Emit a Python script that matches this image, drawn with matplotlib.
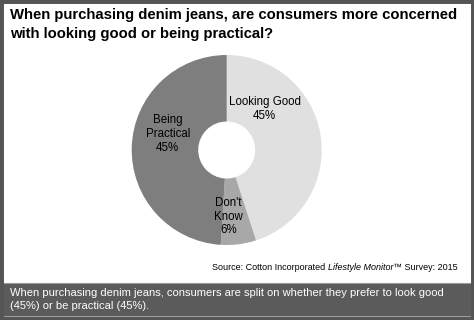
import matplotlib
matplotlib.use("Agg")
import matplotlib.pyplot as plt
from matplotlib.patches import Rectangle

plt.rcParams['font.family'] = ['Liberation Sans', 'DejaVu Sans']

title = "When purchasing denim jeans, are consumers more concerned\nwith looking good or being practical?"
categories = ["Looking Good", "Don't\nKnow", "Being\nPractical"]
values = [45, 6, 49]
value_labels = ["45%", "6%", "45%"]
colors = ["#e0e0e0", "#a8a8a8", "#7e7e7e"]
source_parts = ["Source: Cotton Incorporated ", "Lifestyle Monitor", "\u2122 Survey: 2015"]
caption = ("When purchasing denim jeans, consumers are split on whether they prefer to look good\n"
           "(45%) or be practical (45%).")

W, H = 474, 320
fig = plt.figure(figsize=(W / 100, H / 100), dpi=100)
fig.patch.set_facecolor("white")

# outer border
fig.patches.append(Rectangle((0, 0), 1, 1, transform=fig.transFigure, fill=False,
                             edgecolor="#555555", linewidth=5, zorder=10))
# bottom caption band
band_top = 283
band_bot = 316
fig.patches.append(Rectangle((0, (H - band_bot) / H), 1, (band_bot - band_top) / H,
                             transform=fig.transFigure, facecolor="#5b5b5b",
                             edgecolor="#9a9a9a", linewidth=0.8, zorder=1))

fig.text(10 / W, 1 - 8.5 / H, title, ha="left", va="top", fontsize=10.75,
         fontweight="bold", color="black", linespacing=1.38)

# donut
cx, cy, r = 226.7, 150, 95
ax = fig.add_axes([(cx - r) / W, (H - cy - r) / H, 2 * r / W, 2 * r / H])
ax.pie(values, colors=colors, startangle=90, counterclock=False,
       wedgeprops=dict(width=0.70, linewidth=0), radius=1)
ax.set_xlim(-1, 1)
ax.set_ylim(-1, 1)
ax.set_aspect("equal")
ax.axis("off")

label_pos = [(0.40, 0.43), (0.02, -0.70), (-0.62, 0.17)]
for cat, vl, (x, y) in zip(categories, value_labels, label_pos):
    ax.text(x, y, f"{cat}\n{vl}", ha="center", va="center", fontsize=8.3,
            color="black", linespacing=1.2)

# source line (right aligned, with italic part)
renderer = fig.canvas.get_renderer()
x_right = 458 / W
y_src = 1 - 268 / H
styles = ["normal", "italic", "normal"]
texts = []
for part, st in zip(source_parts, styles):
    t = fig.text(0, y_src, part, fontsize=6.5, style=st, ha="left", va="center", color="black")
    texts.append(t)
widths = [t.get_window_extent(renderer).width / W for t in texts]
x = x_right - sum(widths)
for t, w in zip(texts, widths):
    t.set_x(x)
    x += w

fig.text(10 / W, 1 - 299.5 / H, caption, ha="left", va="center", fontsize=8.0,
         color="white", linespacing=1.3, zorder=5)

fig.savefig("out.png", dpi=100, facecolor="white")
